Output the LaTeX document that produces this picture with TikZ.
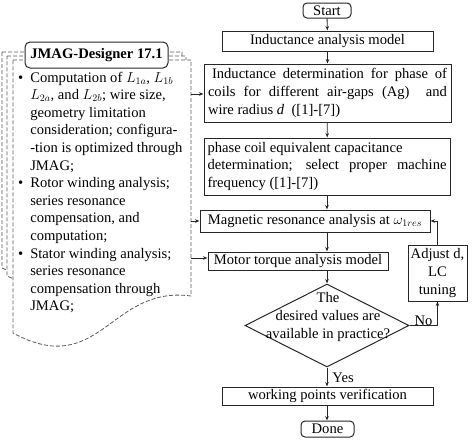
\documentclass[tikz,border=0pt]{standalone}
\usepackage{fontspec}
\setmainfont{Liberation Serif}
\usetikzlibrary{shapes.geometric,arrows.meta}
\newcommand\myfs{\fontsize{14.6}{17.6}\selectfont}
\begin{document}
\begin{tikzpicture}[x=1pt,y=-1pt,
  box/.style={draw=black!85,line width=1pt,inner sep=0pt,font=\myfs,fill=white},
  term/.style={box,rounded corners=4pt},
  docshape/.style={draw=black!65,line width=0.8pt,dash pattern=on 4pt off 2pt,fill=white},
  arr/.style={draw=black!85,line width=0.9pt,-{Stealth[length=4.5pt,width=3.5pt]}},
  lbl/.style={font=\myfs,inner sep=0pt}
]
\useasboundingbox (0,0) rectangle (474,440);

% stacked documents
\draw[docshape] (2,52) -- (182,52) -- (182,245) .. controls (110,240) and (95,310) .. (2,268) -- cycle;
\draw[docshape] (7,56) -- (186,56) -- (186,252) .. controls (115,247) and (100,318) .. (7,276) -- cycle;
\draw[docshape] (13,60) -- (191,60) -- (191,296) .. controls (110,285) and (100,380) .. (13,333) -- cycle;

\node[draw=black!85,line width=1pt,rounded corners=5pt,fill=white,inner sep=0pt,
      minimum width=143,minimum height=26,font=\fontsize{14.6}{17}\selectfont\bfseries] (head) at (96.5,55) {JMAG-Designer 17.1};

\node[lbl,anchor=base west] (doctext) at (18,82) {%
\begin{tabular}[t]{@{}l@{\hspace{7pt}}l@{}}
\textbullet & Computation of $L_{1a}$, $L_{1b}$\\
 & $L_{2a}$, and $L_{2b}$; wire size,\\
 & geometry limitation\\
 & consideration; configura-\\
 & -tion is optimized through\\
 & JMAG;\\
\textbullet & Rotor winding analysis;\\
 & series resonance\\
 & compensation, and\\
 & computation;\\
\textbullet & Stator winding analysis;\\
 & series resonance\\
 & compensation through\\
 & JMAG;
\end{tabular}};

% flowchart
\node[term,minimum width=48,minimum height=15] (start) at (327,10.5) {Start};
\node[box,minimum width=211,minimum height=20] (iam) at (327.5,41) {Inductance analysis model};
\node[box,minimum width=247,minimum height=58,align=left] (indet) at (327.5,93) {%
\makebox[239pt][s]{\hspace*{4pt}Inductance determination for phase of}\\
\makebox[239pt][s]{coils for different air-gaps (Ag)\ \ and}\\
wire radius \textit{d}\ \ ([1]-[7])};
\node[box,minimum width=246,minimum height=57,align=left] (phase) at (327,166.5) {%
\makebox[239pt][l]{phase coil equivalent capacitance}\\
\makebox[239pt][s]{determination; select proper machine}\\
frequency ([1]-[7])};
\node[box,minimum width=230,minimum height=22] (mag) at (315,221) {Magnetic resonance analysis at $\omega_{1res}$};
\node[box,minimum width=180,minimum height=18] (motor) at (298,261) {Motor torque analysis model};
\node[draw=black!85,line width=1pt,shape=diamond,inner sep=0pt,minimum width=164,minimum height=83] (dec) at (327,325.5) {};
\node[lbl,align=center] (dectext) at (328,317) {The\\desired values are\\available in practice?};
\node[box,minimum width=59,minimum height=56,align=center] (adj) at (437.5,273) {Adjust d,\\LC\\tuning};
\node[box,minimum width=211,minimum height=18] (work) at (327.5,396) {working points verification};
\node[term,minimum width=53,minimum height=16] (done) at (327.5,429) {Done};

\draw[arr] (start) -- (iam);
\draw[arr] (iam) -- (indet);
\draw[arr] (indet) -- (phase);
\draw[arr] (phase.south -| start.south) -- (mag.north -| start.south);
\draw[arr] (mag.south -| start.south) -- (motor.north -| start.south);
\draw[arr] (motor.south -| start.south) -- (dec.north);
\draw[arr] (dec.south) -- node[lbl,right,xshift=5pt,yshift=-1pt] (yes) {Yes} (work.north -| dec.south);
\draw[arr] (work.south -| dec.south) -- (done.north -| dec.south);
\draw[arr] (dec.east) -- node[lbl,above,yshift=-1pt] (no) {No} (dec.east -| adj.south) -- (adj.south);
\draw[arr] (adj.north) |- (mag.east);

\coordinate (d1) at (191,94);
\coordinate (d2) at (191,221);
\coordinate (d3) at (191,258);
\draw[arr] (d1) -- (d1 -| indet.west);
\draw[arr] (d2) -- (d2 -| mag.west);
\draw[arr] (d3) -- (d3 -| motor.west);
\end{tikzpicture}
\end{document}
